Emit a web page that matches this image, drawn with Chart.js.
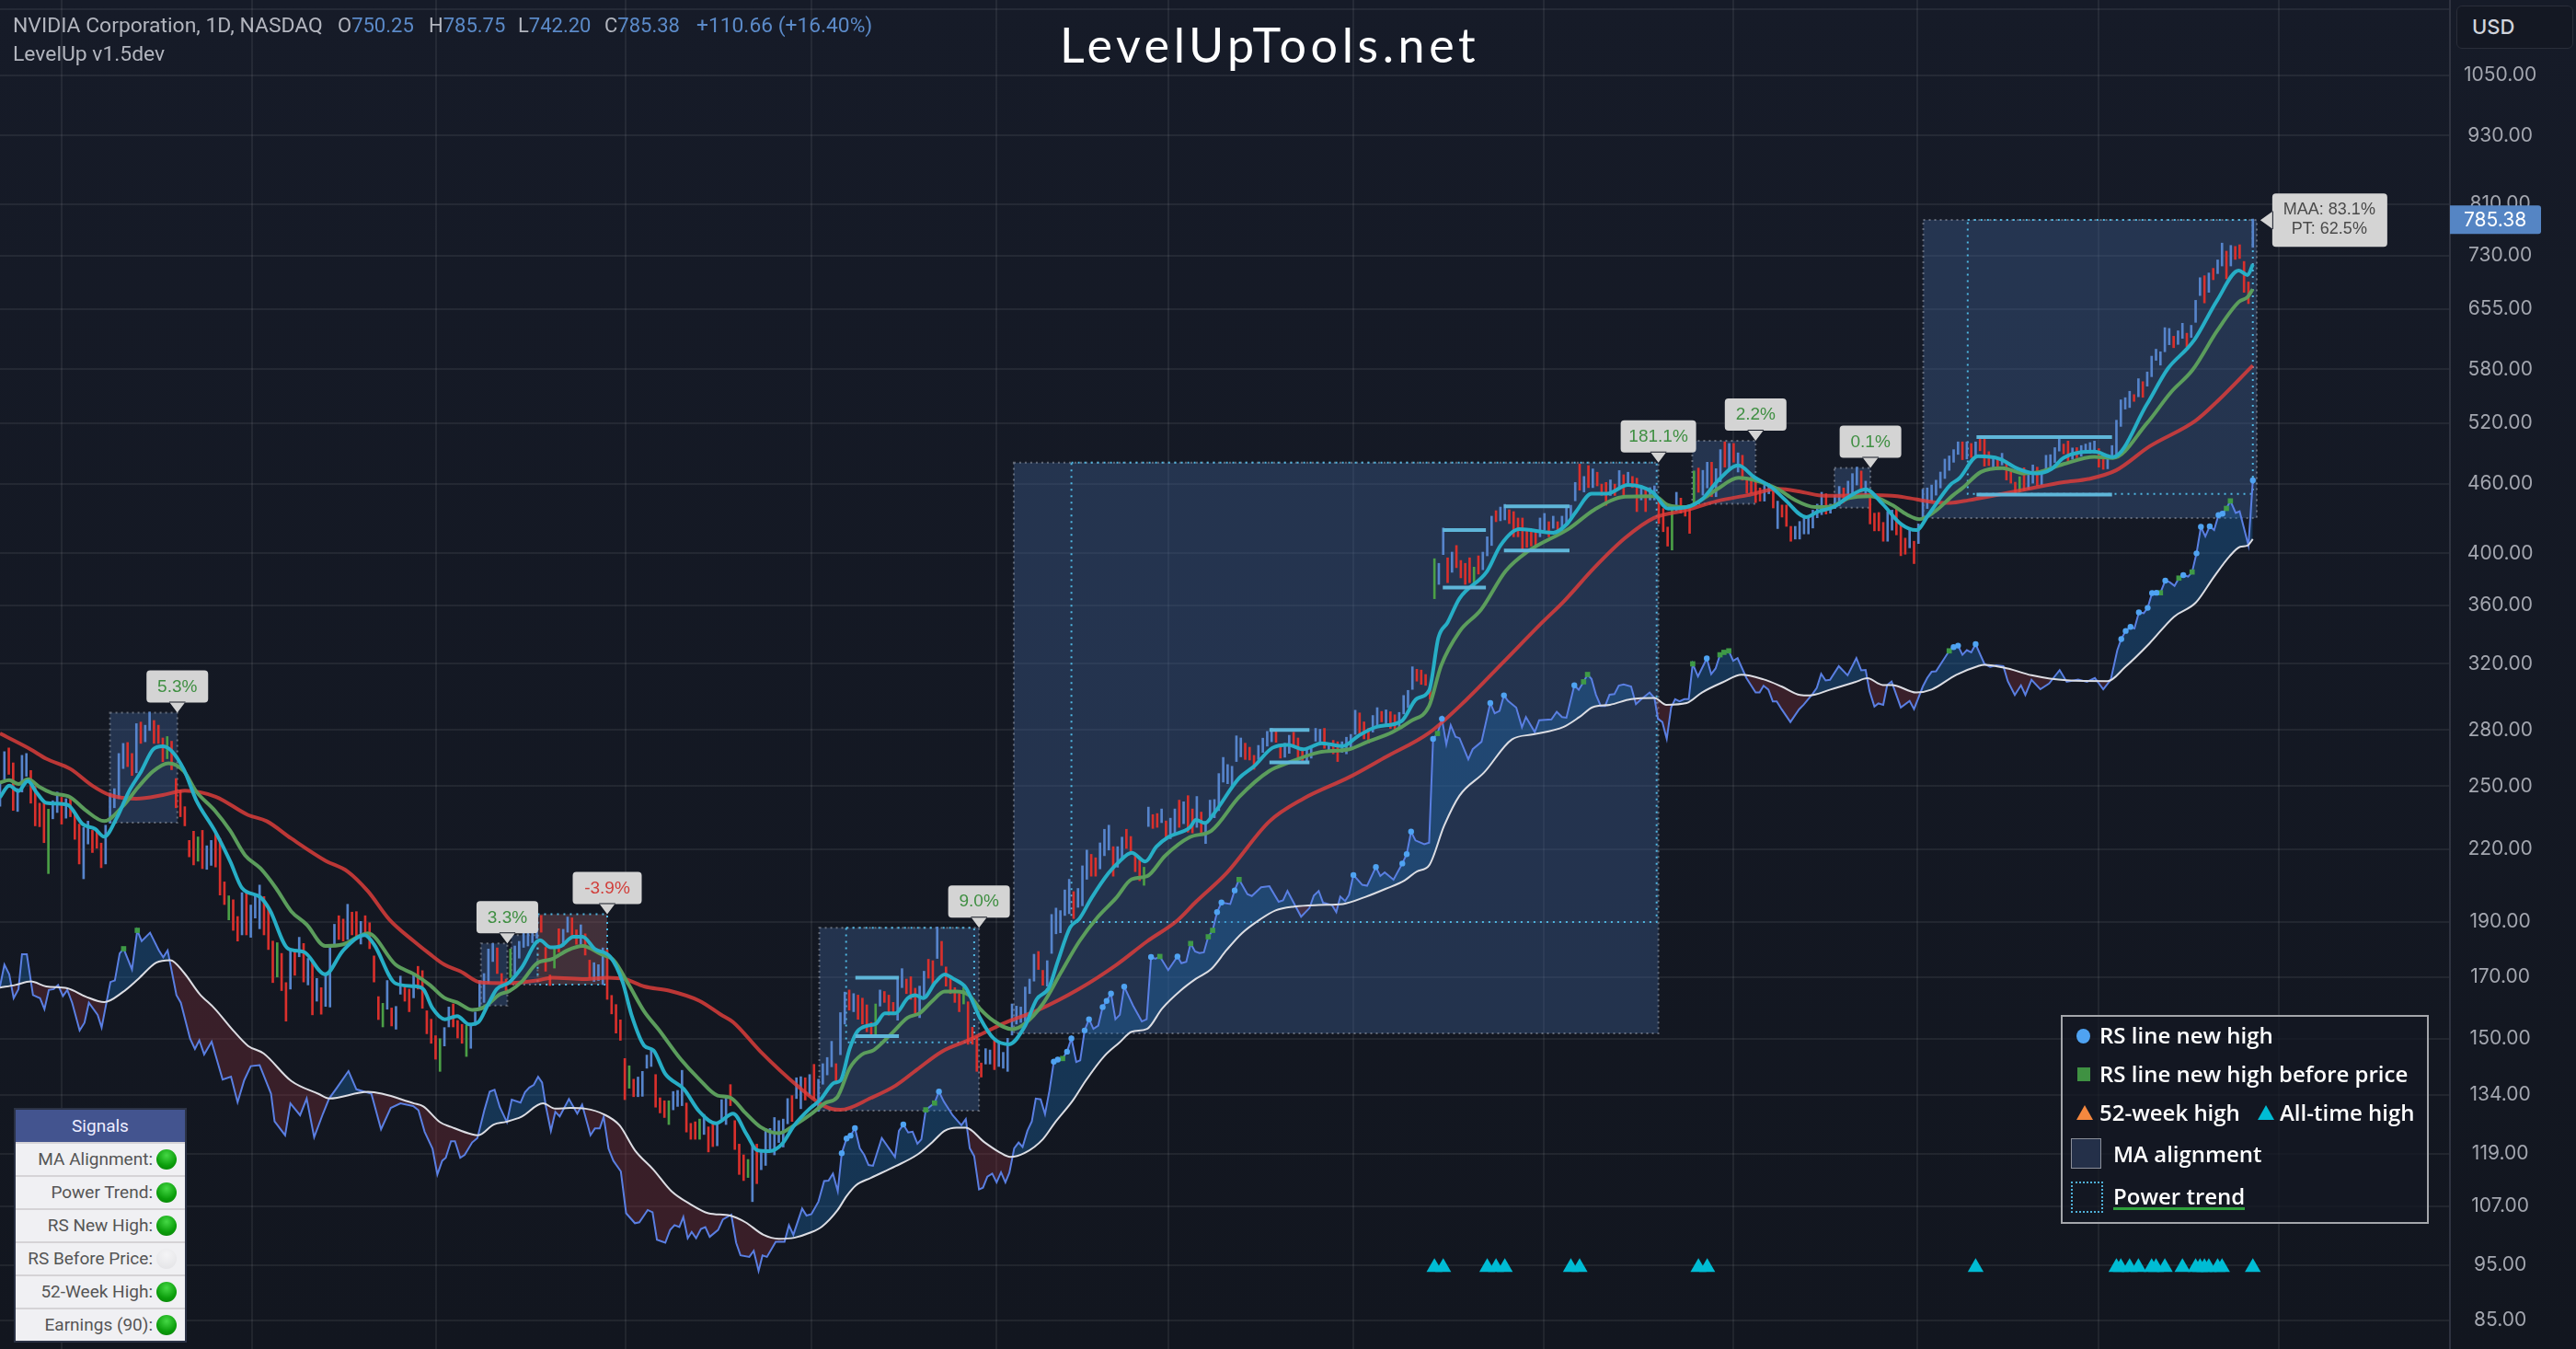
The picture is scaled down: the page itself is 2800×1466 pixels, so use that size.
<!DOCTYPE html>
<html>
<head>
<meta charset="utf-8">
<title>NVDA LevelUp</title>
<script src="https://cdn.jsdelivr.net/npm/chart.js@4/dist/chart.umd.min.js"></script>
<style>
  html, body { margin: 0; padding: 0; background: #141823; }
  #wrap { position: relative; width: 2800px; height: 1466px; overflow: hidden; background: linear-gradient(#161b28, #12161f); }
  #chart { position: absolute; left: 0; top: 0; }
  .t { position: absolute; white-space: nowrap; font-family: Roboto, sans-serif; font-size: 22px; line-height: 26px; color: #b2b5be; }
  .v { color: #5b8ac8; }
  #brand { position: absolute; left: 1152px; top: 18px; font-family: Lato, sans-serif; font-weight: 400; font-size: 52px; line-height: 60px; letter-spacing: 4.6px; color: #fff; white-space: nowrap; }
  #usd { position: absolute; left: 2670px; top: 6px; width: 125px; height: 45px; border: 1px solid #2a2e39; border-radius: 6px; background: #141823; font: 500 22px/45px Inter, sans-serif; color: #d1d4dc; text-indent: 16px; }
  #signals { position: absolute; left: 15px; top: 1204px; width: 184px; border: 2px solid #2b3245; background: #f0f0f3; font-family: Roboto, sans-serif; font-size: 19px; color: #555; }
  #signals .h { height: 35px; line-height: 35px; text-align: center; background: #43548f; color: #eef; }
  #signals .r { position: relative; height: 34px; line-height: 34px; border-top: 2px solid #d5d3d6; text-align: right; padding-right: 35px; }
  #signals i { position: absolute; right: 9px; top: 6px; width: 22px; height: 22px; border-radius: 50%; background: radial-gradient(circle at 50% 30%, #45d845, #0b9d0b 60%, #087c08); }
  #signals i.off { background: radial-gradient(circle at 50% 30%, #f4f4f6, #e1e1e4); }
  #legend { position: absolute; left: 2240px; top: 1103px; width: 396px; height: 223px; border: 2px solid #a4a6ab; background: rgba(19, 23, 34, 0.72); }
  #legend b { position: absolute; white-space: nowrap; font: 600 24px/28px "Open Sans", sans-serif; color: #fff; }
  #legend s { position: absolute; display: block; }
</style>
</head>
<body>
<div id="wrap">
  <canvas id="chart" width="2800" height="1466"></canvas>

  <div class="t" style="left:14px;top:15px;font-size:22.9px">NVIDIA Corporation, 1D, NASDAQ</div>
  <div class="t" style="left:367px;top:15px">O<span class="v">750.25</span></div>
  <div class="t" style="left:466px;top:15px">H<span class="v">785.75</span></div>
  <div class="t" style="left:563px;top:15px">L<span class="v">742.20</span></div>
  <div class="t" style="left:657px;top:15px">C<span class="v">785.38</span></div>
  <div class="t v" style="left:757px;top:15px;font-size:22.8px">+110.66 (+16.40%)</div>
  <div class="t" style="left:14px;top:46px;font-size:22.9px">LevelUp v1.5dev</div>
  <div id="brand">LevelUpTools.net</div>
  <div id="usd">USD</div>

  <div id="signals">
    <div class="h">Signals</div>
    <div class="r">MA Alignment:<i></i></div>
    <div class="r">Power Trend:<i></i></div>
    <div class="r">RS New High:<i></i></div>
    <div class="r">RS Before Price:<i class="off"></i></div>
    <div class="r">52-Week High:<i></i></div>
    <div class="r">Earnings (90):<i></i></div>
  </div>

  <div id="legend">
    <s style="left:15px;top:13px;width:15px;height:16px;border-radius:50%;background:#4fa3f2"></s>
    <b style="left:40px;top:6px">RS line new high</b>
    <s style="left:16px;top:55px;width:14px;height:15px;background:#3f9142"></s>
    <b style="left:40px;top:48px">RS line new high before price</b>
    <s style="left:15px;top:96px;width:0;height:0;border-left:9px solid transparent;border-right:9px solid transparent;border-bottom:16px solid #f5883f"></s>
    <b style="left:40px;top:90px">52-week high</b>
    <s style="left:212px;top:96px;width:0;height:0;border-left:9px solid transparent;border-right:9px solid transparent;border-bottom:16px solid #00bcd4"></s>
    <b style="left:236px;top:90px">All-time high</b>
    <s style="left:9px;top:132px;width:31px;height:31px;background:#243049;border:1px solid #8b8f99"></s>
    <b style="left:55px;top:135px">MA alignment</b>
    <s style="left:9px;top:179px;width:31px;height:30px;border:2px dotted #4fb0d8"></s>
    <b style="left:55px;top:182px;border-bottom:3px solid #2ea03c;line-height:25px">Power trend</b>
  </div>
</div>

<script>
const yTicks = [1200, 1050, 930, 810, 730, 655, 580, 520, 460, 400, 360, 320, 280, 250, 220, 190, 170, 150, 134, 119, 107, 95, 85];
const monthTicks = [14, 57.3, 99.1, 142.2, 184.4, 226.4, 265.5, 307.5, 350.8, 393.9, 435.7, 476.9, 518];

// daily bars, 10 per row
const barHigh = [
  252,268,270,262,248.7,266,267,258,250,241.5,
  242,238.6,242.7,247,244.4,243.7,243.7,237,231.5,230,
  232.9,228.6,228.6,222.8,231,246.5,248.7,267,272.5,273,
  267,283.6,284.5,282.7,290.3,285.4,282.7,275.5,276.3,273.7,
  253.8,248,239.8,224,228.2,225.6,228.6,221.6,224,227.4,
  224.9,206,200.3,198.7,192.1,201.6,201.6,196.6,201,204.7,
  200,196,182.8,182.2,178.3,168.1,179.4,178.9,184.2,181.9,
  176.5,174.9,169.5,166.4,171.5,181.2,189.1,192.4,191.1,196.9,
  193.8,194,190.2,192.4,189.7,177.4,163.4,161.2,168.8,159.7,
  160.2,170.3,166.8,165.9,170.9,173.7,172.2,158.8,156.1,151,
  150.1,153.5,160,161,155.7,154.5,154.2,154.2,158.4,168.8,
  171.2,179.9,181.9,180.3,171.2,169.3,179.9,181,182.7,188.3,
  189.4,189.7,193.1,192.5,180.5,170.7,180.5,187.4,187.2,191.9,
  191.6,187,188.9,185.5,175.9,175,174.3,180.3,179.6,163.8,
  160.8,155.9,144.2,142.1,138.3,138.9,140.5,145.2,147.2,139.6,
  133.2,132.4,132.4,134.9,135.2,140.8,131.8,126.5,126.9,127.6,
  128.8,125.6,126.6,126.6,132.7,133.2,136.8,127.2,121.3,118.7,
  117.6,121.3,121.3,119.8,125.2,125.2,128,127.2,127.6,133,
  133.8,138.7,139,138.7,139.6,142.5,138.3,142.7,144.5,149.3,
  142.7,158.2,164.9,165.6,164.4,163.9,162.9,160.7,155.1,161,
  165.6,165.1,163.9,161.5,169.3,172.9,169.3,170.1,166.2,166.9,
  172,176.2,175.7,188.1,182.7,173.5,170.3,166.4,164.4,166.4,
  161.7,153.6,150.7,142.9,147.1,146.7,149.9,148.9,146,150.2,
  161,160.3,160,166.6,169.3,178,179,172.3,175.7,192.9,
  195.4,194.4,202.7,207.1,202,203.3,212.8,219.7,217.8,216.3,
  222.9,229.1,231,221.2,221.2,225.5,229.1,225.8,217.8,215.3,
  212.2,239.6,236,236.5,238.7,233,234.3,238.7,243,242.2,
  245.2,238.7,244.8,237.2,232.8,243,243.3,256.4,264.9,261.1,
  260.2,276.7,275.5,272.6,270.4,266,271.4,275.4,279.2,280.9,
  280,271,272.6,277,278.7,275.5,269.3,270.1,271,280.9,
  280.4,280.9,272.6,274.2,273.4,273.4,275.9,277.5,291.4,289.8,
  284.6,280.9,288.3,292.9,290.7,291.6,290.5,288.7,290.1,300.2,
  303.3,318.1,316.5,316,313.2,306.4,395.7,392,421,396.4,
  401,406.4,394.3,392,396.4,389,398,401,413.6,431.2,
  436,439.2,441.6,436.8,435.2,429.6,429.6,419.2,419.2,417.6,
  429.6,433.6,426.4,431.2,426.4,431.2,440.8,440.8,461.6,479,
  467.2,477.6,474.4,471.2,460,461.6,464,460,472.8,468.8,
  471.2,467.2,465.6,458.4,456.8,456.8,458.4,445.6,437.9,421.8,
  439.2,452.5,447.2,440.5,440.5,472.4,475.2,473,480.8,480.8,
  474.6,493.2,501,499.4,499.4,490,487.6,465.9,466.8,462.2,
  456.5,459.2,460.6,455.2,444.5,441,441,422.4,422.4,426.6,
  429.3,429.8,436.5,441.8,452.5,451.2,441.8,449.9,457.9,456.5,
  462.8,469.9,476.1,472.4,462.8,448.5,433.8,434.4,425.8,435.2,
  436.5,437.9,423.2,412.5,419.2,409.9,424.5,455.2,456.5,459.2,
  463.7,471.4,483.9,487,493.2,501,501,501,499.4,501,
  507,504.9,491.2,486.7,484.2,489.6,482.1,473.6,461.8,467,
  475.5,468.5,478.2,476.1,473,487.6,488.2,495.2,505.8,498.8,
  501.8,494.9,495.2,497.3,498.8,500.3,501.8,494.2,483.7,486.7,
  497.3,523.4,545.4,547.8,554.9,551.2,569.2,565.8,577,595.7,
  604.1,601,631,630,620.2,627,636.6,624,634,666.8,
  698,700.8,704.7,711.3,723.5,748.5,736.5,745,743.5,746,
  721.3,692,785.75
];
const barLow = [
  240,253.5,256,238,237.5,247,255,241.5,230.7,230.3,
  223,209.5,234,237,231.5,234.3,235,224.5,213.6,207.3,
  222.4,218.6,220.5,212,213.6,232,239.3,243.7,259,260,
  255.4,256.8,272.5,273.4,279.7,272.5,272.5,262.6,264.2,258.4,
  239.3,235,230.7,216.7,213.2,214.8,211.6,211.3,213,212.3,
  200.6,196.8,190.8,186.8,182.8,185.1,185.1,184.2,191.5,187.4,
  185.1,179.7,168.1,170,165.4,155.5,165.9,170.6,177.1,168.3,
  167.3,157.5,161.9,157.7,160.2,160,181.7,183.4,182.8,183.4,
  185.1,184.5,181.7,186.2,180,168.3,156,153.7,159.3,154,
  153,164.2,161.9,158.5,163,165.9,159.6,151.6,148.7,144,
  140.5,147.9,153.7,153.7,150.3,148.7,144.8,147.2,154.2,160,
  161.5,167.9,175.4,171.2,166.4,164.6,169.8,170.9,176.6,180.5,
  181,182.2,183.8,186.1,172,167.1,173.1,178.8,181,186.1,
  185,181.6,181.6,177.7,169.8,168.5,168.8,167.4,162.5,157.8,
  151.8,149.6,132.7,135.8,133.5,133.5,133.6,141.4,141.9,130.7,
  129.2,128,126.2,130,130.9,131.1,124.3,122.5,122.5,122.5,
  123.7,119.4,120.7,120.9,127.6,126.2,131.1,120,114.1,112.7,
  113.4,108,112,115.2,116.2,119.8,118.7,121.7,120.6,126.4,
  127,133,130.3,132.6,133.8,133,129.6,136.9,139.5,141.8,
  137.8,145.3,154.6,159,158.5,156.1,154.6,152.2,150.7,150.7,
  160.3,161.5,157.4,157.5,155.8,166.4,164.4,162.5,158,156.6,
  163.4,169.6,166.9,176.5,174,166.9,164.4,161.5,158.5,161,
  148.4,148.4,140.5,138.9,142.6,142.6,141,141.9,141.4,140.5,
  151.2,154.6,155.1,154.6,164.4,168.6,172.6,167.2,166.9,178.3,
  185.5,185.9,192.5,193.2,191.3,195.7,196.3,207.1,208.4,208.4,
  211.5,217.2,219.7,208.4,212.2,215.3,220.4,218.5,210.3,206.5,
  204.6,230.4,229.5,230,232.2,224.8,224.8,227.4,230,231.7,
  227.8,227.4,230,227.2,222.6,234.2,234.5,237.9,252,251.2,
  249.6,262.7,265.2,263.8,263.5,258.6,263.8,267.6,271,273.4,
  273.1,264.5,265,267.1,271.4,265,263.2,262.7,264.5,273.7,
  272.6,269.8,267.6,266.8,262.7,267.6,266.8,270.1,277.5,277.5,
  275,272.6,278.8,281.8,284.6,282.8,280.9,280.4,281.8,289.2,
  292.9,303.9,309,307,306.4,297.9,365,375.7,399,377,
  385,388.6,380.7,375.7,377,374,383.6,387,398,406.4,
  426.4,427.2,428,424.8,413.6,413.6,401,404.8,406,406,
  413.6,419.2,413.6,420.8,417.6,417.6,424.8,429.6,444.8,454.4,
  452.8,456.8,456.8,458.4,449.6,440.8,449.6,449.6,456.8,449.6,
  460,456.8,435.2,445.6,435.2,445.6,445.6,424.8,417.9,405.9,
  402.7,435.7,433.8,431.2,416.5,440.5,452.5,449.9,456.5,448.5,
  448.5,462.2,476.1,474.6,480.8,471.4,463.7,451.7,451.7,443.2,
  444.5,444.5,451.2,438.4,420.5,430.4,422.4,409.9,411.7,411.7,
  416,416,421,429.8,432.5,433,433.8,437.9,440.5,443.2,
  449.9,449.9,459.2,452.5,448.5,424.5,418.6,418.6,409.9,409.9,
  419.2,415.2,398.1,399.3,404.5,391.8,408,429.8,437.9,444.5,
  449.9,456.5,465.3,473,480.8,488.5,483.3,484,485.4,487,
  492.1,477,477.6,476.1,475.2,478.2,463.9,460.9,450,452.8,
  454.1,455.4,460.9,458.7,459.5,473,474.5,480.6,491.8,489,
  480.6,483.7,485.2,486.7,489.6,489.6,489.6,476.1,474,474.5,
  484.2,486.7,516.9,535.3,537,543.7,548.8,548.2,560.7,571.5,
  590.7,585,601,609.6,606,610,617.5,606.8,618.6,637.8,
  673.3,663.3,677.7,695.1,703.8,714.7,696.4,714.7,724.3,725.6,
  677.7,662.4,742.2
];
// b = up, r = down, g = pocket pivot
const barKind = [
  "bbrrbbbrrr","rgbbrbrrrb","brrrbbbbbr","rbrbbrrrgr","rrrrrgrbbr",
  "rrgrrbrbbb","rrrgrrbrbr","brbrbbbrrb","rrbrrrrgbr","bbrrbrrrrr",
  "gbbrrrgbbb","bbbrrrgbbb","bbbrrrgrbb","rrbrrbbbrr","rrrgrbbbbr",
  "rrgbbbrrrg","brrbbbrrrr","gbrbbbbbbb","rbbrbrbbbb","rbbrbrrrrg",
  "brrrbbrrrb","brrbrrrrrg","rrrrbbrbbb","bbbbbbrrbb","bbbbrbbbrr",
  "bbbrbbrrrr","gbrrbrbbrb","rrbrbbbbbb","bbbrrrbbbb","rrbbrrrbbb",
  "brbrrbbbbr","rrbbrbrrbb","bbrrrrgbbr","brrrrgrbbb","rbbrrrrrrr",
  "bbrbrbbbbr","brbrrrbrbr","brrbrbbrrr","gbrrrgrbbr","bbrbrbrrrr",
  "rbbrbrrrbb","bbbbbrbbbr","bbbrbrrrrb","brrrbrbbbb","bbbbbbrbrb",
  "rrrbrbrrrg","rbbrbbbbbr","rbrbbbbrrb","bbbbbrbrbb","bbbbrbbrbb",
  "brbrbbrbrr","rrb"
].join("");

// moving averages as [bar, price]
const ma50 = [
  [0,278],[7,269.2],[10.5,264.2],[16,258.8],[21,250.2],[25,245.5],[31,243.7],[37,245.5],[42,247.7],[49,244.7],
  [56.4,235.8],[60.6,232.9],[66.2,224.9],[74,215],[79,210.4],[83.6,202.2],[88.5,190.9],[94.1,182.7],[97.6,178.2],
  [101,174.3],[104.6,172],[109.4,168.1],[115,167.9],[122,168.8],[125.5,169.8],[133,169.3],[138,169.8],[142,169.3],
  [146.4,166.8],[152,165.4],[159,162],[163.8,157.6],[166.6,155.2],[172.8,146.3],[181.2,136.5],[187.5,130.9],[191,130],
  [198,133.2],[203.5,136.5],[208.4,141],[214,146.2],[220.2,149.7],[228.6,155.1],[235.6,158.8],[245.3,166],[253.7,174.2],
  [260.7,182.7],[267.6,190.6],[271.8,197.9],[278.8,209.8],[288.5,232.8],[296.2,243.7],[306.6,254.5],[315,265.2],
  [324.8,278.4],[333.1,297.2],[341.5,320.6],[350.5,347.9],[355.4,363],[362.4,388.8],[369.3,412.5],[376,429.8],
  [383.3,436.5],[390.2,444.5],[397.2,449.9],[404.2,455.7],[409.8,452.5],[414.6,449.3],[425.1,449.9],[430,449.3],
  [432.8,448],[439.8,443.4],[443.3,443],[447.4,445.3],[453.7,450],[460.7,455.4],[469,461.8],[474.6,464.8],[480.9,473],
  [488.5,496.4],[499,523],[503.9,543.7],[512,584.7]
];
const ma21 = [
  [0,251.8],[2.1,253],[4.2,251],[6.3,253.5],[9.1,249.4],[11.8,246.5],[16,244.4],[19.5,238],[23.7,232.9],[27.9,240],
  [31.4,249.4],[34.8,257.6],[38.3,261.8],[41.8,257.6],[44.6,247.3],[48.8,238],[52.3,228.5],[55.7,217.4],[59.2,211.7],
  [62.7,203.5],[66.2,194.1],[69.7,189],[73.9,181],[78,181.6],[83.6,185.7],[89.9,174.3],[94.1,171],[97.6,167.4],
  [101,163],[103.9,161.5],[107.3,159.1],[110.1,160],[113.6,164.2],[115.7,165.2],[118.5,168.3],[122,174.8],[125.5,176.3],
  [128.9,179.4],[132.4,181],[136.6,178],[139.4,176],[142.9,167.4],[146.4,158.6],[149.8,152.7],[154.7,144],[158.9,138.3],
  [163.1,133.8],[165.9,133.3],[169.4,129.2],[172.8,125.6],[177,124],[180.5,126],[184.7,129.2],[187.5,131.8],[190.3,133.4],
  [193.1,141.4],[195.8,145.3],[198.6,146.7],[202.8,151.9],[206.3,156.6],[209.1,158.1],[211.9,162],[214.7,165.1],[217.4,165.1],
  [220.2,163.9],[222.7,159.5],[225.8,155.6],[230,153],[232.8,154.6],[237,161],[241.1,171.5],[245.3,182.7],[249.5,191.9],
  [253.7,199.5],[257.2,207.1],[260.7,208.4],[264.8,217.2],[270.4,225.5],[275.3,228.4],[281.6,244.5],[288.5,257.8],
  [292.7,261.9],[299.7,267.6],[306.6,269.3],[310.8,273.4],[316.4,278.7],[320.6,285],[324.8,293.9],[327.5,318.7],
  [331.7,341.6],[336.6,357],[342.2,386],[347,401],[356.7,420.8],[362.4,437],[369.3,448.5],[376,449],[379.1,441],
  [383.3,439.2],[386.8,446],[390.2,455.2],[395.1,465.9],[400,462.2],[404.2,455.2],[407.7,446],[412.5,439.2],[416,439.7],
  [420.2,447.2],[425.1,449],[430,441],[433.4,432.5],[436.2,428.5],[439.7,435.2],[443.9,449.9],[446,456.4],[450.2,471.5],
  [455.1,475.2],[460,470],[463.5,471.5],[469,479.1],[476,486],[480.2,485],[487.9,520],[493.4,553.9],[498.3,579.3],
  [503.9,627],[508.8,664.6],[510.8,671.1],[512,682]
];
const ma10 = [
  [0,244.4],[2.1,250.2],[4.2,247.5],[6.3,252.6],[8.4,246.5],[10.5,241.7],[15.3,240.8],[18.8,231.5],[21.6,229.3],[23.7,225.7],
  [26.5,234.3],[29.3,247.3],[32.1,257.6],[34.8,269.2],[36.9,270.9],[39,268.4],[41.8,258.4],[44.6,243],[48.8,228.5],
  [52.3,214.8],[55,203.5],[59.2,199.7],[61.3,194.7],[65.5,180],[69,178.9],[73.9,170.9],[78,179.4],[82.9,185],[85,181.6],
  [89.9,167.8],[94.1,166.9],[96.2,165.9],[98.3,159.6],[101.1,156.1],[103.9,157.1],[106.6,154.5],[108.7,155.2],[110.8,160.5],
  [112.9,165.9],[115.7,168.1],[118.5,173.1],[122.7,183.1],[125.1,180.5],[127.5,181],[130.3,184.4],[132.4,184.4],[135.2,179.9],
  [138.7,177.1],[141.5,168.3],[143.6,157.1],[146.4,148],[148.5,146.6],[151.2,139.8],[155.4,135.6],[158.9,129.6],[162.7,126.5],
  [166.6,129],[169.7,123.7],[172.1,119.8],[174.9,119.6],[177.7,121.3],[180.5,126],[184,130.3],[186.4,132.6],[189.6,137.3],
  [191,137.9],[193.1,147.1],[194.8,152.2],[197.2,154.1],[199,154.6],[201.1,158],[203.5,158],[206.3,162.9],[208,163.9],
  [209.8,162.9],[212.6,168.2],[214.7,170.9],[216.8,169.3],[219.5,166.4],[222.7,156.6],[225.8,150.2],[229.3,148.4],[232.8,153.6],
  [235.6,162.5],[238.4,166.4],[240.4,175.4],[243.2,187.9],[245.3,191.2],[248.1,199.5],[251.9,209.6],[254.4,214.7],[257.2,218.5],
  [260.3,214.7],[262.8,221.2],[265.5,225.5],[270.4,229.9],[271.8,233.5],[273.9,232],[275.6,235.7],[281.6,254],[285,260.2],
  [289.2,270.1],[292.7,271.7],[296.2,269.3],[300.4,272.6],[305.2,271],[308.7,276.7],[312.9,281.8],[318.5,285],[322,298.3],
  [324.8,303.3],[326.9,337.4],[329,347.9],[331.7,365.2],[338,386],[341,406.4],[345.3,420],[353,417],[356,424],[358.2,435.2],
  [361.7,451.2],[365.2,451.2],[370,459.2],[375.6,452.5],[379.1,437.9],[383.3,439.2],[386.8,446],[390.2,462.2],[395.1,477.7],
  [398.6,466.8],[402.8,456.5],[405.6,446],[410.5,430.4],[413.2,435.2],[416.7,439.2],[420.2,448.5],[424,455.2],[427.9,441.8],
  [432,424.5],[435.5,419.2],[438.3,432.5],[443.2,459.2],[445.3,465.5],[449.5,486.7],[454.4,484.2],[458.6,474.5],[462.8,470],
  [466.3,474.5],[469,485.2],[476,491.2],[480.2,485.8],[487.9,540.3],[492.7,581],[496.9,604],[498.7,615.5],[503.9,666.8],
  [508.8,708.2],[510.8,701.7],[512,716.9]
];

// relative strength line and its average, [bar, level]
const rsLine = [
  [0,166.8],[1,174.3],[2.1,170.9],[3.1,162.9],[4.2,165.9],[5,178],[6.1,178],[7.5,163.9],[9.1,162.9],[10.1,159.3],[11.1,165.6],
  [12.2,165.9],[13.2,167.3],[14.3,163.6],[15.3,165.6],[16.4,161.4],[18.1,152.6],[19.2,155],[20.2,161.4],[22.2,157.5],[23.1,153.5],
  [25.1,168.3],[26.1,168.8],[27.2,178.3],[28.1,180],[30,172.6],[31.2,186.8],[32.2,182.8],[34.1,185.9],[36.1,179.4],[37.1,176.9],
  [38.1,179.4],[40.1,163.9],[41.1,161.4],[43.2,150.1],[44.3,147],[45.3,149.6],[46.4,145.4],[48.1,149.2],[50.6,138.2],[52.5,139],
  [54,132],[55.5,138],[57,142],[59,142.3],[61.6,134.3],[62.4,127],[64.8,123.5],[66,131.7],[68.2,128.6],[69.7,133],[71.4,123],
  [73.4,129],[74.8,133],[76.6,136],[79.2,140.6],[81,135.5],[84.4,134.3],[86.6,125],[88.8,130.5],[91,131.7],[93.9,131],
  [95.1,129.9],[96.5,124.4],[98.3,120.2],[99.4,114.1],[100.5,117.3],[101.3,118],[102.5,122],[103.4,122],[104.6,118],[105.6,118.7],
  [107.3,121.7],[108.5,122.8],[110.1,130],[111.3,134.9],[112.4,135.4],[113.6,130.7],[115.2,126.8],[116.3,132.7],[118.3,131.9],
  [119.3,134.7],[120.3,136],[121.3,136.7],[122.3,139],[123.2,137.4],[124.1,130.7],[125.2,124.6],[126.2,129.5],[127.2,128.3],
  [129.3,132.9],[131.2,129],[132.3,131.4],[134.2,123.5],[135.2,125.2],[136.3,125.2],[137.2,128.2],[138.3,120.2],[139.4,117.3],
  [141.1,114.8],[142.3,105.5],[144.3,103.4],[145.3,103.6],[147.2,106.2],[148.3,105.7],[149.3,100],[151.2,99.4],[152.3,102],
  [153.3,103],[154.4,102.6],[155.3,104.7],[156.3,100.3],[157.2,101.6],[158.2,100.3],[159.3,102.2],[160.3,102.6],[161.3,100.6],
  [163.2,102],[164.3,104.2],[166.2,105.2],[167.3,99.4],[168.3,96.9],[170.3,96.6],[171.3,97.8],[172.4,93.9],[173.3,96.9],[174.3,96.6],
  [176.3,99.6],[178.3,99.6],[179.3,103],[180.3,101],[182.3,106.5],[183.3,105],[184.4,105.3],[186,108],[187.3,112.6],[188.3,112.7],
  [189.3,114.3],[190.4,110.3],[191.3,119.1],[192.4,122.7],[193.3,123.4],[194.3,125.3],[195.4,120.3],[196.4,118.7],[197.4,116.3],
  [198.4,116.1],[200.4,122.8],[203.4,118.2],[204.3,124.6],[205.3,126.2],[206.4,124.2],[207.4,124.4],[208.5,121.4],[209.4,122.5],
  [210.4,130],[212.4,131.8],[213.4,134.9],[214.5,132.2],[216.5,128.6],[218.5,126],[219.5,127.6],[220.4,120.3],[221.4,118.4],
  [222.5,110.7],[223.4,111.1],[224.4,113.6],[225.5,114.3],[226.5,112.3],[227.5,114.6],[228.5,112.3],[229.4,114.5],[230.5,120.3],
  [231.5,121.7],[232.4,120.6],[233.5,124.6],[234.5,127],[235.4,133],[236.5,132.8],[237.5,128.9],[238.5,135.1],[239.5,143.3],
  [240.4,143.9],[241.5,144.2],[242.5,146.2],[243.5,150.2],[244.6,143.2],[245.5,143.7],[246.5,152.6],[247.5,156.1],[248.5,153.1],
  [249.6,154.1],[250.6,160],[251.5,162],[252.5,164.4],[253.5,156.1],[254.5,157.5],[255.5,166.7],[257.5,160.5],[259.5,155.4],
  [260.6,156.1],[261.6,177],[262.6,176.4],[263.6,177.2],[265.5,172.4],[267.6,177.2],[268.5,174.8],[269.6,175.3],[270.6,181.9],
  [271.6,179],[272.6,178.4],[273.6,178.7],[274.6,184.4],[275.6,186.8],[276.6,193.8],[277.6,197.6],[279.6,197],[280.6,202.5],
  [281.6,207],[283.5,201],[284.5,200.2],[286.6,203.8],[288.5,204.2],[290.6,197.9],[291.6,198.5],[292.6,202.3],[295.7,192],
  [297.6,195.4],[298.6,200.4],[299.7,202.3],[300.7,197.5],[302.7,196.6],[303.7,193.8],[304.6,200],[305.7,198.2],[306.6,200.7],
  [307.6,208.9],[309.6,204.8],[310.7,204.4],[312.7,212.3],[313.7,208.5],[314.7,210],[316.7,206.9],[318.7,213.8],[319.7,217.9],
  [320.7,228],[321.7,224],[323.7,222.3],[324.8,223],[325.7,275],[326.7,278],[327.7,286.4],[328.7,272],[329.7,282.8],[330.8,276.2],
  [331.7,275.4],[333.7,263.9],[334.7,269.3],[336.7,273.4],[338.7,295.7],[339.7,289.6],[340.8,291],[341.8,300.3],[342.7,297],
  [344.6,292.9],[345.9,281.5],[346.8,287.4],[348.8,278.8],[349.8,285.5],[352.6,286],[353.8,290.5],[355,287.4],[356,287],
  [357.8,306.4],[358.8,303.6],[359.9,308.6],[360.8,313.2],[361.7,310.4],[362.7,300.7],[363.8,293.9],[364.8,293.9],[365.8,300.7],
  [366.9,301],[367.9,306.2],[369,307],[370.7,305.7],[371.8,295],[372.8,297.4],[374.9,302],[376,298.7],[376.8,286.4],[377.8,284.5],
  [378.8,275],[379.8,293],[380.7,298],[381.7,296.7],[382.8,298],[383.8,298],[384.7,320],[385.9,312],[387.9,323.5],[388.9,313.4],
  [389.9,317],[390.9,325.9],[391.8,327.5],[392.9,328.5],[393.9,322],[394.9,323.7],[396.9,311],[399,302],[399.9,302],[400.8,306.2],
  [401.9,303.8],[402.9,296.6],[403.8,296.6],[404.9,292],[406.9,284.5],[408.9,292],[409.9,294.6],[411.9,301],[412.9,304.8],
  [413.9,313.6],[414.9,309.4],[415.9,309.8],[417.9,318.5],[419.9,312.7],[421.9,323.7],[423,315.8],[424,316.1],[424.9,302.8],
  [426,293.6],[426.9,295.4],[428,294.6],[428.9,306.6],[429.9,308.8],[432,293],[434,296.9],[435,292],[437,305.7],[438,311],
  [439,314.9],[440,315.2],[443,328.5],[444,331],[445,332],[446,325.9],[447,329],[448,327.5],[449,333],[451,320],[452.3,318],
  [453.7,319],[455.3,318.5],[456.3,309],[457.9,300.5],[459.3,306.4],[460.3,300.5],[461.7,309.8],[463.7,304],[465.7,307.5],
  [468.1,316],[469.7,308.6],[472.3,310],[474.3,308.6],[476.1,311],[478,304],[479.7,309.8],[481.2,329],[482.1,336.4],[483.1,342],
  [484.2,344.8],[485.1,343.7],[486.1,355],[487.2,354.5],[488.1,358.3],[489.1,369.2],[490.1,369.4],[491,369.4],[492.1,378.6],
  [493.1,377.4],[494.2,374.6],[495.2,380.5],[496.2,382.8],[497.3,381.7],[498.2,385.2],[499.2,400],[500.2,422],[501.2,414],
  [502.2,422.5],[503.2,419.3],[504.2,432.2],[505.1,433.3],[506,438],[506.9,444.7],[508.1,434],[509,435.4],[511,406.4],[512,463.5]
];
const rsAvg = [
  [0,166.4],[3.5,167.3],[7,168.5],[10.5,166.8],[15.3,166.2],[19.5,163.4],[23.7,161.6],[27.9,164.9],[31.4,169.3],[35.5,175],
  [38.7,175.9],[41.8,171.5],[45.3,164.4],[48.8,159.5],[53,152.6],[56.4,147.9],[59.9,145.7],[66.2,137.8],[72.5,134.2],[74.8,133],
  [83.6,134.8],[94.1,131.7],[96.2,130.9],[100,126.8],[102.5,125.6],[107.3,123.7],[108.7,123.5],[112.2,126.2],[115,126.9],
  [118.5,128.2],[123.4,131.7],[126.2,130.3],[129.6,130.5],[133.1,130.3],[137.3,128.8],[140.8,126],[144.3,119.8],[148.5,115.2],
  [152.6,110.3],[156.8,107.5],[161,105.5],[165.9,105],[169.4,103.6],[173.5,101],[177,100.2],[180.5,100.4],[184,101.4],[186.8,102.7],
  [190.3,106.1],[192.4,109.2],[194.5,111.6],[197.9,113.3],[203.5,116],[208.4,118.7],[211.9,121.8],[214.7,124.6],[217.4,125.4],
  [219.5,125.4],[223.7,121.8],[227.2,119.3],[229.6,118.2],[232.8,119.1],[237,122.5],[239.7,126.6],[243.9,132.6],[246.7,137.8],
  [250.9,144.8],[254.4,148.9],[257.2,152.2],[260.7,153.1],[264.1,159.5],[268.3,165.4],[271.8,169.4],[275.3,172.8],[278.8,179.6],
  [282.3,185.8],[286.4,191],[289.9,194.5],[294.1,196],[299.7,196.6],[305.2,197],[310.1,199.7],[315,203.2],[319.2,206.6],[322,210.4],
  [324.8,213],[328.2,230.7],[331.7,245.2],[337.3,257],[343.6,274.7],[348.5,277.5],[355.4,281.8],[358.9,287.3],[362,293.2],[365.9,294.6],
  [370.7,298],[376,298.7],[378.7,294.6],[383.3,295.6],[386.8,302],[391.6,308.4],[395.8,313],[400.7,310.2],[404.9,305.7],[409.1,300.5],
  [411.2,300.2],[416,303.8],[421.6,308.4],[424.4,310.8],[427.9,306.6],[430,306.6],[435.5,302],[439,303.8],[444.6,313],[449.5,318.5],
  [451,319.4],[456.3,317],[461.7,312.7],[469.7,309.5],[479,309],[483,318],[488.5,333.5],[494.1,352],[499,362],[503.2,381.7],
  [506.7,397.6],[509.1,405.3],[510.8,406.4],[512,411.7]
];

const rsNewHighBars = [191.3,192.4,193.3,194.3,205.3,213.4,239.5,240.4,242.5,243.5,246.5,247.5,250.6,251.5,252.5,255.5,261.6,267.6,276.6,277.6,280.6,307.6,312.7,318.7,319.7,320.7,325.7,327.7,338.7,341.8,357.8,387.9,444,445,449,482.1,483.1,484.2,486.1,488.1,489.1,490.1,492.1,496.2,499.2,500.2,502.2,504.2,505.1,512];
const rsBeforePriceBars = [28.1,31.2,210.4,212.4,241.5,263.6,270.6,274.6,275.6,281.6,326.7,359.9,360.8,384.7,390.9,391.8,392.9,443,491,495.2,498.2,506,506.9];
const allTimeHighBars = [326,328,338,340,342,357,359,386,388,449,481,482,484,486,489,490,492,496,499,500,501,502,504,505,512];
const markerRowPrice = 94.6;

// [first bar, last bar, top price, bottom price]
const alignBoxes = [[25,40.3,289.9,232.2],[109.3,115.3,181.9,160.5],[116.2,122.2,185,167.4],[186.2,222.5,187.8,129.8],[230.4,376.9,480.4,151.7],[384.6,399,502.2,442],[416.9,425.1,475.4,438.6],[437.1,512.9,784.5,429.6]];
const failedBoxes = [[122.2,138,193,167.4]];
const trendBoxes = [[122.2,138,193,167.4],[192.3,221.4,187.8,149],[243.5,376.5,480.4,190],[447.2,512,784.5,451]];
const baseLines = [[194.4,204.3,169.8,150.9],[288.5,297.6,280,262.3],[327.9,337.7,419.2,373.3],[341.8,356.7,439.9,402.3],[449.2,480,505.8,450.4]];
// [bar, price, text]
const gains = [[40.3,289.9,"5.3%"],[115.3,181.9,"3.3%"],[138,193,"-3.9%"],[222.5,187.8,"9.0%"],[376.9,480.4,"181.1%"],[399,502.2,"2.2%"],[425.1,475.4,"0.1%"]];
const statusText = ["MAA: 83.1%", "PT: 62.5%"];
const statusAt = [513.7, 784];
const lastClose = 785.38;

function points(pairs) {
  return pairs.map(p => ({ x: p[0], y: p[1] }));
}

function rsAt(bars) {
  return bars.map(b => {
    let best = rsLine[0];
    rsLine.forEach(p => { if (Math.abs(p[0] - b) < Math.abs(best[0] - b)) best = p; });
    return { x: best[0], y: best[1] };
  });
}

function maLine(label, pairs, color, order) {
  return { type: 'line', label, data: points(pairs), borderColor: color, borderWidth: 4, pointRadius: 0, cubicInterpolationMode: 'monotone', order };
}

const barColors = { b: '#5684cb', r: '#d9302c', g: '#4b9f46' };

const overlays = {
  id: 'overlays',
  beforeDatasetsDraw(chart) {
    const { ctx, scales: { x, y } } = chart;
    const box = b => [x.getPixelForValue(b[0]), y.getPixelForValue(b[2]), x.getPixelForValue(b[1]) - x.getPixelForValue(b[0]), y.getPixelForValue(b[3]) - y.getPixelForValue(b[2])];
    ctx.save();
    ctx.lineWidth = 2;
    alignBoxes.forEach(b => {
      ctx.fillStyle = 'rgba(64,96,150,0.38)';
      ctx.fillRect(...box(b));
      ctx.setLineDash([2, 4]);
      ctx.strokeStyle = 'rgba(190,195,205,0.45)';
      ctx.strokeRect(...box(b));
    });
    failedBoxes.forEach(b => {
      ctx.fillStyle = 'rgba(143,89,97,0.38)';
      ctx.fillRect(...box(b));
    });
    ctx.setLineDash([2, 5]);
    ctx.strokeStyle = '#4fb6e0';
    trendBoxes.forEach(b => ctx.strokeRect(...box(b)));
    ctx.restore();
  },
  afterDatasetsDraw(chart) {
    const { ctx, scales: { x, y } } = chart;
    ctx.save();
    ctx.strokeStyle = '#5fb6d9';
    ctx.lineWidth = 4;
    baseLines.forEach(b => {
      [b[2], b[3]].forEach(price => {
        ctx.beginPath();
        ctx.moveTo(x.getPixelForValue(b[0]), y.getPixelForValue(price));
        ctx.lineTo(x.getPixelForValue(b[1]), y.getPixelForValue(price));
        ctx.stroke();
      });
    });
    ctx.textAlign = 'center';
    ctx.textBaseline = 'middle';
    ctx.font = '19px "Liberation Sans", sans-serif';
    gains.forEach(g => {
      const tx = x.getPixelForValue(g[0]), ty = y.getPixelForValue(g[1]);
      const w = g[2].length > 5 ? 82 : g[2].length > 4 ? 75 : 67;
      ctx.fillStyle = '#d4d4d4';
      ctx.beginPath();
      ctx.roundRect(tx - w / 2, ty - 46, w, 35, 4);
      ctx.moveTo(tx - 9, ty - 12);
      ctx.lineTo(tx, ty);
      ctx.lineTo(tx + 9, ty - 12);
      ctx.fill();
      ctx.fillStyle = g[2][0] === '-' ? '#d13f3b' : '#3f8f42';
      ctx.fillText(g[2], tx, ty - 28);
    });
    const sx = x.getPixelForValue(statusAt[0]), sy = y.getPixelForValue(statusAt[1]);
    ctx.fillStyle = '#d4d4d4';
    ctx.beginPath();
    ctx.roundRect(sx + 13, sy - 29, 125, 58, 4);
    ctx.moveTo(sx + 14, sy - 10);
    ctx.lineTo(sx, sy);
    ctx.lineTo(sx + 14, sy + 10);
    ctx.fill();
    ctx.fillStyle = '#4a4a4a';
    ctx.font = '18px "Liberation Sans", sans-serif';
    ctx.fillText(statusText[0], sx + 75, sy - 11);
    ctx.fillText(statusText[1], sx + 75, sy + 10);
    ctx.restore();
  },
  afterDraw(chart) {
    const { ctx, scales: { y } } = chart;
    const py = y.getPixelForValue(lastClose);
    ctx.save();
    ctx.fillStyle = '#5585c4';
    ctx.beginPath();
    ctx.roundRect(y.left, py - 15, 99, 31, [0, 3, 3, 0]);
    ctx.fill();
    ctx.fillStyle = '#fff';
    ctx.font = '21px Inter, sans-serif';
    ctx.textBaseline = 'middle';
    ctx.fillText(lastClose.toFixed(2), y.left + 15, py + 1);
    ctx.restore();
  }
};

const datasets = [
  { type: 'bar', label: 'Price', order: 5, barThickness: 2, grouped: false,
    data: barHigh.map((h, i) => ({ x: i, y: [barLow[i], h] })),
    backgroundColor: barHigh.map((h, i) => barColors[barKind[i]]) },
  { type: 'line', label: 'RS average', data: points(rsAvg), borderColor: '#dcdde3', borderWidth: 2, pointRadius: 0, cubicInterpolationMode: 'monotone', order: 3 },
  { type: 'line', label: 'RS line', data: points(rsLine), borderColor: '#5a7fe2', borderWidth: 2, pointRadius: 0, order: 4,
    fill: { target: 1, above: 'rgba(30,110,180,0.35)', below: 'rgba(140,50,60,0.32)' } },
  maLine('MA 50', ma50, 'rgba(226,62,58,0.82)', 2),
  maLine('MA 21', ma21, '#5b9d5c', 1),
  maLine('MA 10', ma10, '#27aec6', 0),
  { type: 'line', label: 'RS new high', data: rsAt(rsNewHighBars), showLine: false, pointRadius: 3.2, pointBackgroundColor: '#4fa3f2', pointBorderWidth: 0, order: 0 },
  { type: 'line', label: 'RS new high before price', data: rsAt(rsBeforePriceBars), showLine: false, pointStyle: 'rect', pointRadius: 4, pointBackgroundColor: '#3f9a46', pointBorderWidth: 0, order: 0 },
  { type: 'line', label: 'All-time high', data: allTimeHighBars.map(b => ({ x: b, y: markerRowPrice })), showLine: false, pointStyle: 'triangle', pointRadius: 10, pointBackgroundColor: '#00bcd4', pointBorderWidth: 0, order: 0 }
];

new Chart(document.getElementById('chart'), {
  type: 'line',
  data: { datasets },
  plugins: [overlays],
  options: {
    responsive: false,
    animation: false,
    devicePixelRatio: 1,
    layout: { padding: 0, autoPadding: false },
    plugins: { legend: { display: false }, tooltip: { enabled: false } },
    scales: {
      x: {
        type: 'linear', min: 0, max: 556.8, offset: false,
        border: { display: false },
        grid: { color: 'rgba(255,255,255,0.065)', lineWidth: 2, drawTicks: false, offset: false },
        ticks: { display: false, autoSkip: false },
        afterBuildTicks: s => { s.ticks = monthTicks.map(v => ({ value: v })); },
        afterFit: s => { s.height = 0; s.paddingLeft = 0; s.paddingRight = 0; s.paddingTop = 0; s.paddingBottom = 0; }
      },
      y: {
        type: 'logarithmic', position: 'right', min: 80.2, max: 1223,
        border: { color: '#2f3340', width: 2 },
        grid: { color: 'rgba(255,255,255,0.065)', lineWidth: 2, drawTicks: false },
        ticks: {
          color: '#a3a6af', font: { family: 'Inter', size: 21 }, padding: 15, autoSkip: false, crossAlign: 'center',
          callback: v => (v === 1200 ? '' : Number(v).toFixed(2))
        },
        afterBuildTicks: s => { s.ticks = yTicks.map(v => ({ value: v })); },
        afterFit: s => { s.width = 137; s.paddingTop = 0; s.paddingBottom = 0; s.paddingLeft = 0; s.paddingRight = 0; }
      }
    }
  }
});
</script>
</body>
</html>
